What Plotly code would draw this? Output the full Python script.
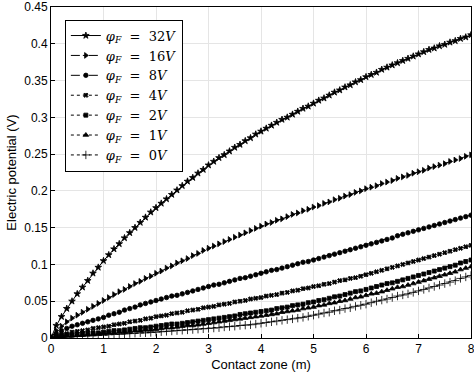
import numpy as np
import plotly.graph_objects as go

# x grid (contact zone, m), sampled every 0.1 m
X_M = [round(i * 0.1, 1) for i in range(81)]

V32 = [0, 0.017, 0.029, 0.040, 0.050, 0.060, 0.069, 0.078, 0.088, 0.096, 0.105,
       0.113, 0.121, 0.128, 0.136, 0.143, 0.150, 0.157, 0.164, 0.171, 0.177,
       0.183, 0.189, 0.195, 0.201, 0.207, 0.213, 0.218, 0.224, 0.229, 0.235,
       0.240, 0.245, 0.249, 0.254, 0.259, 0.263, 0.268, 0.272, 0.277, 0.281,
       0.285, 0.289, 0.293, 0.297, 0.300, 0.304, 0.308, 0.312, 0.315, 0.319,
       0.323, 0.326, 0.330, 0.334, 0.337, 0.341, 0.344, 0.348, 0.351, 0.355,
       0.358, 0.361, 0.365, 0.368, 0.371, 0.374, 0.377, 0.380, 0.383, 0.386,
       0.389, 0.392, 0.394, 0.397, 0.399, 0.402, 0.404, 0.407, 0.409, 0.412]
V16 = [0, 0.010, 0.016, 0.022, 0.027, 0.031, 0.035, 0.039, 0.043, 0.047, 0.051,
       0.055, 0.059, 0.063, 0.066, 0.070, 0.074, 0.077, 0.081, 0.084, 0.088,
       0.091, 0.095, 0.098, 0.102, 0.105, 0.108, 0.112, 0.115, 0.119, 0.122,
       0.125, 0.128, 0.131, 0.134, 0.137, 0.140, 0.143, 0.146, 0.149, 0.152,
       0.155, 0.157, 0.160, 0.162, 0.165, 0.168, 0.170, 0.173, 0.175, 0.178,
       0.180, 0.183, 0.185, 0.188, 0.190, 0.193, 0.195, 0.198, 0.200, 0.203,
       0.205, 0.207, 0.210, 0.212, 0.214, 0.217, 0.219, 0.221, 0.224, 0.226,
       0.228, 0.231, 0.233, 0.235, 0.237, 0.240, 0.242, 0.244, 0.247, 0.249]
V8 = [0, 0.006, 0.010, 0.013, 0.016, 0.018, 0.020, 0.022, 0.024, 0.026, 0.028,
      0.031, 0.033, 0.035, 0.038, 0.040, 0.042, 0.045, 0.047, 0.049, 0.051,
      0.053, 0.055, 0.057, 0.058, 0.060, 0.062, 0.064, 0.066, 0.068, 0.070,
      0.072, 0.073, 0.075, 0.077, 0.079, 0.081, 0.082, 0.084, 0.086, 0.088,
      0.090, 0.092, 0.093, 0.095, 0.097, 0.099, 0.101, 0.103, 0.104, 0.106,
      0.108, 0.110, 0.112, 0.114, 0.116, 0.118, 0.120, 0.122, 0.124, 0.126,
      0.128, 0.130, 0.132, 0.134, 0.136, 0.139, 0.141, 0.143, 0.145, 0.147,
      0.149, 0.151, 0.153, 0.155, 0.157, 0.159, 0.161, 0.163, 0.165, 0.167]
V4 = [0, 0.003, 0.005, 0.006, 0.008, 0.009, 0.010, 0.011, 0.013, 0.014, 0.015,
      0.016, 0.018, 0.019, 0.020, 0.022, 0.023, 0.024, 0.026, 0.027, 0.029,
      0.030, 0.031, 0.033, 0.034, 0.035, 0.037, 0.038, 0.039, 0.041, 0.042,
      0.043, 0.045, 0.046, 0.047, 0.049, 0.050, 0.051, 0.053, 0.054, 0.055,
      0.057, 0.058, 0.059, 0.061, 0.062, 0.064, 0.065, 0.067, 0.068, 0.070,
      0.071, 0.073, 0.074, 0.076, 0.078, 0.079, 0.081, 0.082, 0.084, 0.086,
      0.088, 0.090, 0.092, 0.094, 0.096, 0.098, 0.100, 0.102, 0.104, 0.106,
      0.108, 0.110, 0.112, 0.114, 0.116, 0.118, 0.120, 0.122, 0.124, 0.126]
V2 = [0, 0.002, 0.003, 0.004, 0.004, 0.005, 0.006, 0.006, 0.007, 0.007, 0.008,
      0.009, 0.010, 0.010, 0.011, 0.012, 0.013, 0.014, 0.014, 0.015, 0.016,
      0.017, 0.018, 0.019, 0.019, 0.020, 0.021, 0.022, 0.023, 0.024, 0.025,
      0.026, 0.027, 0.028, 0.029, 0.030, 0.032, 0.033, 0.034, 0.035, 0.036,
      0.037, 0.038, 0.040, 0.041, 0.042, 0.044, 0.045, 0.046, 0.048, 0.049,
      0.051, 0.052, 0.054, 0.056, 0.057, 0.059, 0.061, 0.063, 0.064, 0.066,
      0.068, 0.070, 0.072, 0.074, 0.075, 0.077, 0.079, 0.081, 0.083, 0.085,
      0.087, 0.089, 0.091, 0.093, 0.095, 0.097, 0.099, 0.102, 0.104, 0.106]
V1 = [0, 0.001, 0.002, 0.003, 0.003, 0.004, 0.004, 0.005, 0.005, 0.006, 0.006,
      0.007, 0.007, 0.008, 0.008, 0.009, 0.010, 0.010, 0.011, 0.011, 0.012,
      0.013, 0.014, 0.014, 0.015, 0.016, 0.017, 0.017, 0.018, 0.019, 0.020,
      0.021, 0.022, 0.023, 0.024, 0.025, 0.026, 0.027, 0.028, 0.029, 0.030,
      0.031, 0.032, 0.033, 0.035, 0.036, 0.037, 0.038, 0.040, 0.041, 0.042,
      0.044, 0.045, 0.047, 0.048, 0.050, 0.051, 0.053, 0.055, 0.056, 0.058,
      0.060, 0.061, 0.063, 0.065, 0.067, 0.069, 0.070, 0.072, 0.074, 0.076,
      0.078, 0.080, 0.082, 0.084, 0.086, 0.088, 0.090, 0.093, 0.095, 0.097]
V0 = [0, 0.0005, 0.001, 0.0015, 0.002, 0.002, 0.0025, 0.003, 0.003, 0.0035, 0.004,
      0.0045, 0.005, 0.005, 0.0055, 0.006, 0.0065, 0.007, 0.007, 0.0075, 0.008,
      0.0085, 0.009, 0.0095, 0.010, 0.0105, 0.011, 0.0115, 0.012, 0.0125, 0.013,
      0.0135, 0.014, 0.015, 0.0155, 0.016, 0.017, 0.0175, 0.018, 0.019, 0.020,
      0.021, 0.022, 0.023, 0.024, 0.025, 0.026, 0.027, 0.028, 0.0295, 0.031,
      0.0325, 0.034, 0.035, 0.037, 0.038, 0.040, 0.041, 0.043, 0.0445, 0.046,
      0.048, 0.050, 0.0515, 0.053, 0.055, 0.057, 0.0585, 0.060, 0.062, 0.064,
      0.066, 0.068, 0.070, 0.072, 0.074, 0.076, 0.078, 0.081, 0.083, 0.085]

LABELS = ["32", "16", "8", "4", "2", "1", "0"]
SERIES = [V32, V16, V8, V4, V2, V1, V0]
DASHES = ["solid", "dashdot", "dash", "dot", "dot", "dot", "dot"]
SYMBOLS = ["star", "triangle-right", "circle", "x", "square", "triangle-up", "cross-thin-open"]
SIZES = [5, 5, 4.5, 4, 4, 5, 6]

fig = go.Figure()
for lab, ys, dsh, sym, sz in zip(LABELS, SERIES, DASHES, SYMBOLS, SIZES):
    fig.add_trace(go.Scatter(
        x=X_M, y=ys, mode="lines+markers",
        name="<i>φ</i><sub><i>F</i></sub>&nbsp;&nbsp;=&nbsp;&nbsp;%s<i>V</i>" % lab,
        line=dict(color="black", width=1, dash=dsh),
        marker=dict(symbol=sym, size=sz, color="black",
                    line=dict(color="black", width=0.8)),
    ))

axis_common = dict(
    showline=True, linecolor="black", linewidth=1, mirror=True,
    ticks="inside", ticklen=4, tickcolor="black",
    showgrid=True, gridcolor="#e5e5e5", gridwidth=1, zeroline=False,
    automargin=False, ticklabeloverflow="allow",
    tickfont=dict(family="Liberation Sans, Arial", size=12, color="black"),
)
fig.update_xaxes(range=[0, 8], dtick=1,
                 title=dict(text="Contact zone (m)", standoff=4,
                            font=dict(family="Liberation Sans, Arial", size=13, color="black")),
                 **axis_common)
fig.update_yaxes(range=[0, 0.45], dtick=0.05, tickformat="~g",
                 title=dict(text="Electric potential (V)", standoff=4,
                            font=dict(family="Liberation Sans, Arial", size=13, color="black")),
                 **axis_common)

fig.update_layout(
    width=474, height=378,
    margin=dict(l=51, r=3, t=7, b=40),
    paper_bgcolor="white", plot_bgcolor="white",
    showlegend=True,
    legend=dict(x=0.033, y=0.962, xanchor="left", yanchor="top",
                bgcolor="white", bordercolor="black", borderwidth=1,
                font=dict(family="DejaVu Serif, Liberation Serif, serif", size=13, color="black"),
                itemwidth=30, tracegroupgap=0),
)

fig.write_html("out.html", config={"displayModeBar": False},
               post_script="document.body.style.margin='0';document.body.style.padding='0';")
